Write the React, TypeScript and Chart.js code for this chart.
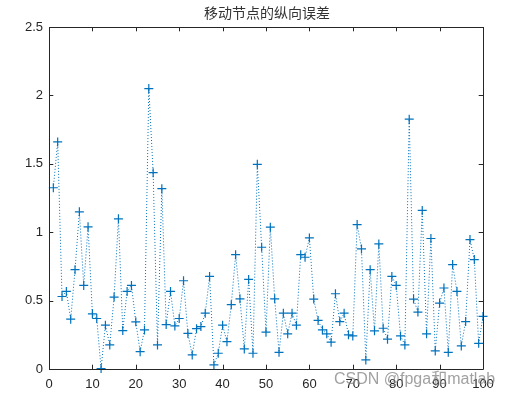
import React, { useEffect, useRef } from "react";
import { Chart, registerables } from "chart.js";

Chart.register(...registerables);

const chartTitle = "移动节点的纵向误差";
const watermark = "CSDN @fpga和matlab";
const xTickValues = [0, 10, 20, 30, 40, 50, 60, 70, 80, 90, 100];
const yTickValues = [0, 0.5, 1, 1.5, 2, 2.5];
const errorValues = [
  1.325, 1.66, 0.53, 0.567, 0.364, 0.726, 1.149, 0.611, 1.039, 0.403,
  0.369, 0.003, 0.32, 0.176, 0.526, 1.098, 0.281, 0.567, 0.611, 0.345,
  0.127, 0.286, 2.05, 1.435, 0.176, 1.318, 0.325, 0.567, 0.315, 0.369,
  0.645, 0.26, 0.103, 0.295, 0.31, 0.408, 0.677, 0.03, 0.115, 0.32,
  0.2, 0.47, 0.836, 0.513, 0.147, 0.655, 0.115, 1.496, 0.89, 0.269,
  1.037, 0.513, 0.122, 0.408, 0.257, 0.408, 0.32, 0.836, 0.817, 0.958,
  0.511, 0.355, 0.286, 0.257, 0.196, 0.55, 0.347, 0.408, 0.25, 0.242,
  1.056, 0.878, 0.066, 0.726, 0.279, 0.914, 0.298, 0.218, 0.677, 0.611,
  0.242, 0.176, 1.826, 0.511, 0.416, 1.159, 0.257, 0.954, 0.132, 0.482,
  0.592, 0.122, 0.763, 0.567, 0.169, 0.347, 0.946, 0.8, 0.188, 0.384,
];

const AXIS_COLOR = "#262626";
const LINE_COLOR = "#0072BD";

const matlabAxesPlugin = {
  id: "matlabAxes",
  afterDatasetsDraw(chart: any) {
    const { ctx, chartArea, scales } = chart;
    const { left, right, top, bottom } = chartArea;
    const tl = 4.3;
    ctx.save();
    ctx.strokeStyle = AXIS_COLOR;
    ctx.lineWidth = 1;
    ctx.beginPath();
    ctx.rect(left + 0.5, top + 0.5, right - left, bottom - top);
    ctx.stroke();
    ctx.beginPath();
    xTickValues.forEach((v) => {
      const px = Math.round(scales.x.getPixelForValue(v)) + 0.5;
      ctx.moveTo(px, bottom);
      ctx.lineTo(px, bottom - tl);
      ctx.moveTo(px, top);
      ctx.lineTo(px, top + tl);
    });
    yTickValues.forEach((v) => {
      const py = Math.round(scales.y.getPixelForValue(v)) + 0.5;
      ctx.moveTo(left, py);
      ctx.lineTo(left + tl, py);
      ctx.moveTo(right, py);
      ctx.lineTo(right - tl, py);
    });
    ctx.stroke();
    ctx.restore();
  },
  afterDraw(chart: any) {
    const { ctx } = chart;
    ctx.save();
    ctx.fillStyle = "#333333";
    ctx.font = '14px "Noto Sans CJK SC"';
    ctx.textAlign = "center";
    ctx.textBaseline = "middle";
    ctx.fillText(chartTitle, 267, 13);
    ctx.fillStyle = "rgba(130,130,130,0.75)";
    ctx.font = '16px "Liberation Sans", "Noto Sans CJK SC"';
    ctx.textAlign = "left";
    ctx.textBaseline = "alphabetic";
    ctx.fillText(watermark, 334, 384);
    ctx.restore();
  },
};

export default function App() {
  const ref = useRef<HTMLCanvasElement | null>(null);
  useEffect(() => {
    if (!ref.current) return;
    const chart = new Chart(ref.current, {
      type: "line",
      data: {
        datasets: [
          {
            data: errorValues.map((v, i) => ({ x: i + 1, y: v })),
            borderColor: LINE_COLOR,
            borderWidth: 1,
            borderDash: [1, 2],
            pointStyle: "cross",
            pointRadius: 4.5,
            pointBorderWidth: 1.2,
            pointBorderColor: LINE_COLOR,
            pointBackgroundColor: LINE_COLOR,
            tension: 0,
            clip: false as any,
          },
        ],
      },
      options: {
        animation: false,
        responsive: false,
        layout: { padding: { left: 0, right: 49, top: 27, bottom: 0 } },
        plugins: {
          legend: { display: false },
          title: { display: false },
          tooltip: { enabled: false },
        },
        scales: {
          x: {
            type: "linear",
            min: 0,
            max: 100,
            grid: { display: false, drawTicks: false },
            border: { display: false },
            ticks: {
              stepSize: 10,
              padding: 8,
              color: AXIS_COLOR,
              font: { family: '"Liberation Sans"', size: 13 },
              maxRotation: 0,
              callback: (v: any) => String(v),
            },
            afterFit(scale: any) {
              scale.height = 29;
            },
          },
          y: {
            type: "linear",
            min: 0,
            max: 2.5,
            grid: { display: false, drawTicks: false },
            border: { display: false },
            ticks: {
              stepSize: 0.5,
              padding: 6,
              color: AXIS_COLOR,
              font: { family: '"Liberation Sans"', size: 13 },
              callback: (v: any) => String(Number(v)),
            },
            afterFit(scale: any) {
              scale.width = 49;
            },
          },
        },
      },
      plugins: [matlabAxesPlugin],
    });
    return () => chart.destroy();
  }, []);
  return (
    <div style={{ position: "fixed", left: 0, top: 0, width: 532, height: 398, background: "#fff" }}>
      <canvas ref={ref} width={532} height={398} style={{ display: "block" }} />
    </div>
  );
}
